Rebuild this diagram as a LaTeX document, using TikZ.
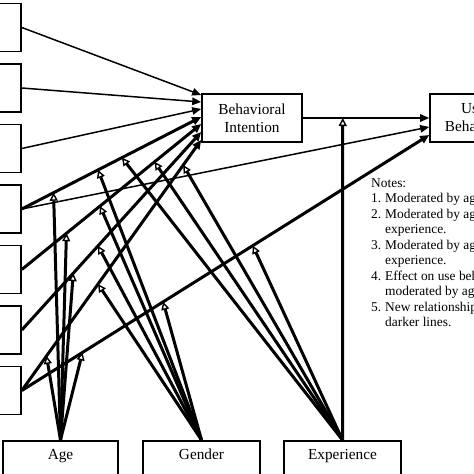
\documentclass[tikz,border=0pt]{standalone}
\usepackage{fontspec}
\setmainfont{Liberation Serif}
\usetikzlibrary{arrows.meta,calc}
\begin{document}
\begin{tikzpicture}[x=1pt,y=-1pt,
  box/.style={draw, line width=1.6pt, inner sep=0pt, align=center, font=\fontsize{15.3}{18}\selectfont},
  lbox/.style={box, minimum width=120pt, minimum height=48pt},
  bbox/.style={box, anchor=north, text height=19pt, text depth=21pt},
  thinln/.style={line width=1.5pt, -{Triangle[length=9pt,width=7.5pt]}},
  thickln/.style={line width=3pt, -{Triangle[length=9pt,width=8pt]}},
  modln/.style={line width=3pt, -{Triangle[open,line width=1.4pt,length=8pt,width=8pt]}},
  note/.style={anchor=base west, inner sep=0pt, font=\fontsize{13.4}{15.5}\selectfont}]
\path[use as bounding box] (0,0) rectangle (474,474);
\clip (0,0) rectangle (474,474);
\fill[white] (0,0) rectangle (474,474);

% left constructs
\node[lbox] (PE) at (-39,27.5) {Performance\\Expectancy};
\node[lbox] (EE) at (-39,88) {Effort\\Expectancy};
\node[lbox] (SI) at (-39,148.5) {Social\\Influence};
\node[lbox] (FC) at (-39,209) {Facilitating\\Conditions};
\node[lbox] (HM) at (-39,269.5) {Hedonic\\Motivation};
\node[lbox] (PV) at (-39,330) {Price Value};
\node[lbox] (HB) at (-39,390.5) {Habit};

% outcome boxes
\node[box, minimum width=100pt, minimum height=48pt] (BI) at (252,118) {Behavioral\\Intention};
\node[box, minimum width=86pt, minimum height=48pt] (UB) at (473,118) {Use\\Behavior};

% moderators
\node[bbox, minimum width=115pt] (Age) at (60.5,440) {Age};
\node[bbox, minimum width=117pt] (Gen) at (201.5,440) {Gender};
\node[bbox, minimum width=117pt] (Exp) at (342.5,440) {Experience};

% arrow end points on BI and UB
\coordinate (b1) at ($(BI.west)+(0,-23)$);
\coordinate (b2) at ($(BI.west)+(0,-16)$);
\coordinate (b3) at ($(BI.west)+(0,-9)$);
\coordinate (b4) at ($(BI.west)+(0,-1)$);
\coordinate (b5) at ($(BI.west)+(0,6)$);
\coordinate (b6) at ($(BI.west)+(0,14)$);
\coordinate (b7) at ($(BI.west)+(0,22)$);
\coordinate (u2) at ($(UB.west)+(0,9)$);
\coordinate (u3) at ($(UB.west)+(0,17)$);

% main paths
\draw[thinln] (PE.east) -- (b1);
\draw[thinln] (EE.east) -- (b2);
\draw[thinln] (SI.east) -- (b3);
\draw[thickln] (FC.east) -- (b4);
\draw[thickln] (HM.east) -- (b5);
\draw[thickln] (PV.east) -- (b6);
\draw[thickln] (HB.east) -- (b7);
\draw[thinln] (FC.east) -- (u2);
\draw[thickln] (HB.east) -- (u3);
\draw[thinln] (BI.east) -- (UB.west);

% moderation targets
\coordinate (fcA) at ($(FC.east)!0.177!(b4)$);
\coordinate (fcG) at ($(FC.east)!0.425!(b4)$);
\coordinate (fcE) at ($(FC.east)!0.558!(b4)$);
\coordinate (hmA) at ($(HM.east)!0.249!(b5)$);
\coordinate (hmG) at ($(HM.east)!0.436!(b5)$);
\coordinate (hmE) at ($(HM.east)!0.740!(b5)$);
\coordinate (pvA) at ($(PV.east)!0.287!(b6)$);
\coordinate (pvG) at ($(PV.east)!0.425!(b6)$);
\coordinate (hbA) at ($(HB.east)!0.138!(b7)$);
\coordinate (hbG) at ($(HB.east)!0.425!(b7)$);
\coordinate (hbE) at ($(HB.east)!0.900!(b7)$);
\coordinate (huA) at ($(HB.east)!0.149!(u3)$);
\coordinate (huG) at ($(HB.east)!0.347!(u3)$);
\coordinate (huE) at ($(HB.east)!0.567!(u3)$);
\coordinate (biE) at ($(BI.east)!0.316!(UB.west)$);

% moderation arrows
\draw[modln] (Age.north) -- (fcA);
\draw[modln] (Age.north) -- (hmA);
\draw[modln] (Age.north) -- (pvA);
\draw[modln] (Age.north) -- (hbA);
\draw[modln] (Age.north) -- (huA);
\draw[modln] (Gen.north) -- (fcG);
\draw[modln] (Gen.north) -- (hmG);
\draw[modln] (Gen.north) -- (pvG);
\draw[modln] (Gen.north) -- (hbG);
\draw[modln] (Gen.north) -- (huG);
\draw[modln] (Exp.north) -- (fcE);
\draw[modln] (Exp.north) -- (hmE);
\draw[modln] (Exp.north) -- (hbE);
\draw[modln] (Exp.north) -- (huE);
\draw[modln] (Exp.north) -- (biE);

% notes
\node[note] (n0) at (371,187) {Notes:};
\node[note] (n1) at (371,202.5) {\makebox[14pt][l]{1.}Moderated by age and gender.};
\node[note] (n2) at (371,218) {\makebox[14pt][l]{2.}Moderated by age, gender, and};
\node[note] (n3) at (371,233.5) {\hspace*{14pt}experience.};
\node[note] (n4) at (371,249) {\makebox[14pt][l]{3.}Moderated by age, gender, and};
\node[note] (n5) at (371,264.5) {\hspace*{14pt}experience.};
\node[note] (n6) at (371,280) {\makebox[14pt][l]{4.}Effect on use behavior is};
\node[note] (n7) at (371,295.5) {\hspace*{14pt}moderated by age, gender, and experience.};
\node[note] (n8) at (371,311) {\makebox[14pt][l]{5.}New relationships are shown as};
\node[note] (n9) at (371,326.5) {\hspace*{14pt}darker lines.};
\end{tikzpicture}
\end{document}
